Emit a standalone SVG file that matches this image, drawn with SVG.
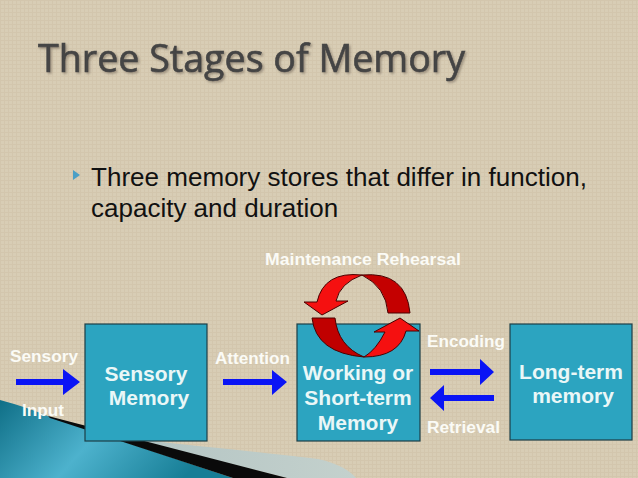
<svg xmlns="http://www.w3.org/2000/svg" width="638" height="478" viewBox="0 0 638 478">
<style>
.title{font-family:"Open Sans","DejaVu Sans",sans-serif;font-size:38px;fill:#444;stroke:#444;stroke-width:0.6}
.body{font-family:"Liberation Sans",Arial,sans-serif;font-size:26px;fill:#111}
.box{fill:#2ca4c0;stroke:#1d3f47;stroke-width:1.2}
.boxtxt{font-family:"Liberation Sans",Arial,sans-serif;font-size:21px;font-weight:bold;fill:#eaf7f7;text-anchor:middle}
.lbl{font-family:"Liberation Sans",Arial,sans-serif;font-size:16px;font-weight:bold;fill:#fbfbf6}
.blue{fill:#0a14f5}
.redo{stroke:#4a0000;stroke-width:1;stroke-linejoin:round}
</style>
<defs>
<pattern id="canvas" width="4" height="4" patternUnits="userSpaceOnUse">
<rect width="4" height="4" fill="#d8cdb5"/>
<path d="M0 0.5H4M0.5 0V4" stroke="#c7b99d" stroke-width="1" opacity="0.35"/>
</pattern>
<linearGradient id="teal" x1="0" y1="0" x2="1" y2="0.3">
<stop offset="0" stop-color="#0f6f87"/>
<stop offset="0.5" stop-color="#4db2cd"/>
<stop offset="1" stop-color="#177e96"/>
</linearGradient>
<linearGradient id="pale" x1="0" y1="0" x2="1" y2="0">
<stop offset="0" stop-color="#b3c4c3"/>
<stop offset="1" stop-color="#c4d1cd"/>
</linearGradient>
<filter id="shadow" x="-5%" y="-20%" width="110%" height="140%">
<feDropShadow dx="1.5" dy="1.5" stdDeviation="1.2" flood-color="#6f6658" flood-opacity="0.6"/>
</filter>
</defs>

<rect width="638" height="478" fill="url(#canvas)"/>

<!-- bottom-left decoration -->
<path d="M130 439 Q250 451 318 459 Q345 465 356 478 L287 478 Z" fill="url(#pale)"/>
<path d="M0 400 Q30 408 50 417 L233 478 L0 478 Z" fill="url(#teal)"/>
<path d="M48 416 L287 478 L233 478 L50 418 Z" fill="#0a0a0a"/>

<!-- title -->
<text class="title" x="38" y="72" textLength="427" lengthAdjust="spacingAndGlyphs" filter="url(#shadow)">Three Stages of Memory</text>

<!-- bullet -->
<polygon points="73,170 80,175 73,180" fill="#4a9fc6"/>
<text class="body" x="91" y="186" textLength="496" lengthAdjust="spacingAndGlyphs">Three memory stores that differ in function,</text>
<text class="body" x="91" y="217">capacity and duration</text>

<!-- nodes -->
<g id="sensory">
<rect class="box" x="85" y="324" width="122" height="117"/>
<text class="boxtxt" x="146" y="381">Sensory</text>
<text class="boxtxt" x="149" y="405">Memory</text>
</g>
<g id="working">
<rect class="box" x="297" y="324" width="123" height="117"/>
<text class="boxtxt" x="358" y="380">Working or</text>
<text class="boxtxt" x="358" y="405">Short-term</text>
<text class="boxtxt" x="358" y="430">Memory</text>
</g>
<g id="longterm">
<rect class="box" x="510" y="324" width="122" height="116"/>
<text class="boxtxt" x="571" y="379">Long-term</text>
<text class="boxtxt" x="573" y="403">memory</text>
</g>

<!-- connectors -->
<g id="connectors">
<polygon class="blue" points="16,379 63,379 63,369 80,382 63,395 63,385 16,385"/>
<polygon class="blue" points="223,379 272,379 272,370 287,382 272,395 272,385 223,385"/>
<polygon class="blue" points="430,369 480,369 480,359 494,372 480,385 480,375 430,375"/>
<polygon class="blue" points="494,395 444,395 444,385 430,398 444,411 444,401 494,401"/>

<!-- maintenance rehearsal loop -->
<g id="rehearsal">
<path class="redo" fill="#c40000" d="M362 275 Q406 271 410 313 L388 313 Q386 287 362 275 Z"/>
<path class="redo" fill="#f51010" d="M362 275 Q324 271 317 302 L304 302 L322 315 L348 301 L336 301 Q340 283 362 275 Z"/>
<path class="redo" fill="#c00000" d="M312 318 L335 318 Q338 346 364 357 Q316 353 312 318 Z"/>
<path class="redo" fill="#f51010" d="M364 357 Q399 357 406 331 L419 331 L400 318 L374 332 L385 332 Q376 350 364 357 Z"/>
</g>

<text class="lbl" x="10" y="362" textLength="68" lengthAdjust="spacingAndGlyphs">Sensory</text>
<text class="lbl" x="22" y="416" textLength="42" lengthAdjust="spacingAndGlyphs">Input</text>
<text class="lbl" x="215" y="364" textLength="75" lengthAdjust="spacingAndGlyphs">Attention</text>
<text class="lbl" x="427" y="347" textLength="78" lengthAdjust="spacingAndGlyphs">Encoding</text>
<text class="lbl" x="427" y="433" textLength="73" lengthAdjust="spacingAndGlyphs">Retrieval</text>
<text class="lbl" x="265" y="265" textLength="196" lengthAdjust="spacingAndGlyphs">Maintenance Rehearsal</text>
</g>
</svg>
